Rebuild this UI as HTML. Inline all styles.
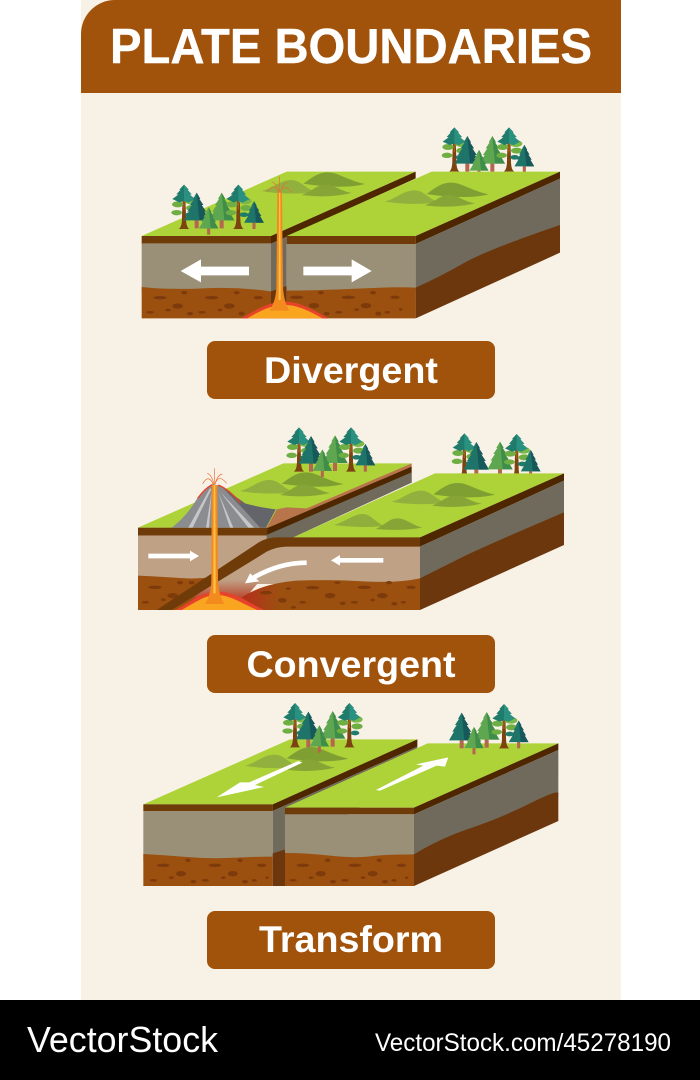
<!DOCTYPE html>
<html><head><meta charset="utf-8"><style>html,body{margin:0;padding:0;background:#fff}svg{display:block}</style></head><body>
<svg xmlns="http://www.w3.org/2000/svg" width="700" height="1080" viewBox="0 0 700 1080">
<defs>
<g id="s">
<path d="M-16,0Q-5,-6 -6,-40L-3,-120H3L6,-40Q5,-6 16,0Z" fill="#7c4310"/>
<ellipse cx="-19" cy="-74" rx="17" ry="9" fill="#6fae42"/><ellipse cx="-22" cy="-49" rx="16" ry="8" fill="#6fae42"/>
<ellipse cx="21" cy="-84" rx="19" ry="10" fill="#7ab84a"/><ellipse cx="23" cy="-63" rx="17" ry="9" fill="#6fae42"/><ellipse cx="17" cy="-43" rx="13" ry="7" fill="#1f7c6c"/>
<path d="M0,-133L14,-118L11,-117L23,-104L17,-103L33,-90L14,-80L0,-84L-14,-80L-35,-90L-17,-103L-23,-104L-11,-117L-14,-118Z" fill="#1f7c6c"/>
<path d="M0,-133L14,-118L11,-117L23,-104L17,-103L33,-90L14,-80L0,-84Z" fill="#2a9080"/>
<path d="M-2,-84V-58H2V-84Z" fill="#a85a18"/>
</g>
<g id="p">
<rect x="-6" y="-28" width="12" height="28" fill="#b4664e"/>
<path d="M0,-107L11,-88L8,-88L20,-70L15,-70L28,-50L23,-50L38,-24L-38,-24L-23,-50L-28,-50L-15,-70L-20,-70L-8,-88L-11,-88Z" fill="#1e7469"/>
<path d="M0,-107L11,-88L8,-88L20,-70L15,-70L28,-50L23,-50L38,-24L8,-24Z" fill="#17595b"/>
</g>
<g id="g">
<rect x="-6" y="-28" width="12" height="28" fill="#b4664e"/>
<path d="M0,-107L11,-88L8,-88L20,-70L15,-70L28,-50L23,-50L38,-24L-38,-24L-23,-50L-28,-50L-15,-70L-20,-70L-8,-88L-11,-88Z" fill="#5fa650"/>
<path d="M0,-107L11,-88L8,-88L20,-70L15,-70L28,-50L23,-50L38,-24L8,-24Z" fill="#3f8d4a"/>
</g>
<g id="h">
<path d="M125,-22C150,-40 170,-56 198,-56C230,-56 250,-35 310,-21C270,-10 200,-10 125,-22Z" fill="#7f9f33"/>
<path d="M0,0C30,-6 55,-33 88,-33C118,-33 128,-8 165,4C100,10 40,8 0,0Z" fill="#92b03e"/>
<path d="M120,12C150,2 165,-19 192,-19C218,-19 235,0 270,6C220,18 170,18 120,12Z" fill="#86a536"/>
</g>
<linearGradient id="glow" gradientUnits="userSpaceOnUse" x1="0" y1="480" x2="0" y2="548"><stop offset="0" stop-color="#bfa185"/><stop offset="1" stop-color="#b9301a"/></linearGradient>
<linearGradient id="edge" gradientUnits="userSpaceOnUse" x1="340" y1="0" x2="450" y2="0"><stop offset="0" stop-color="#b5301b"/><stop offset="1" stop-color="#b5301b" stop-opacity="0"/></linearGradient>
</defs>

<rect width="700" height="1080" fill="#fff"/>
<rect x="81" y="0" width="540" height="1000" fill="#f8f1e6"/>
<path d="M81,93V34A34,34 0 0 1 115,0H621V93Z" fill="#a1530c"/>
<text x="351" y="63" font-family="Liberation Sans, sans-serif" font-weight="700" font-size="49" fill="#fff" stroke="#fff" stroke-width=".4" stroke-linejoin="round" text-anchor="middle" textLength="482" lengthAdjust="spacingAndGlyphs">PLATE BOUNDARIES</text>

<!-- DIVERGENT -->
<g transform="translate(130,120) scale(.33333)">
<use href="#s" transform="translate(973,155)"/><use href="#p" transform="translate(1012,155)"/><use href="#g" transform="translate(1087,155)"/><use href="#g" transform="translate(1047,170) scale(.75)"/><use href="#s" transform="translate(1137,155)"/><use href="#p" transform="translate(1183,158) scale(.78)"/>
<!-- left block -->
<path d="M35,348H423L857,155H470Z" fill="#add338"/>
<path d="M423,348L857,155V175L423,372Z" fill="#4e2700"/>
<path d="M35,348H423V372H35Z" fill="#6f3b08"/>
<rect x="35" y="370" width="388" height="150" fill="#9a9078"/>
<path d="M35,501Q120,510 220,505T423,514V595H35Z" fill="#9c500f"/>
<path d="M423,370L470,350V595H423Z" fill="#6f6a5b"/>
<path d="M423,514L470,498V595H423Z" fill="#6d370e"/>
<!-- right block -->
<path d="M470,348H857L1290,155H905Z" fill="#add338"/>
<path d="M857,348L1290,155V176L857,372Z" fill="#4e2700"/>
<rect x="470" y="348" width="387" height="24" fill="#6f3b08"/>
<rect x="470" y="372" width="387" height="148" fill="#9a9078"/>
<path d="M470,512Q600,510 700,505T857,503V595H470Z" fill="#9c500f"/>
<path d="M857,372L1290,176V320L857,505Z" fill="#6f6a5b"/>
<path d="M857,503Q930,470 1000,430T1290,315V398L857,595Z" fill="#6d370e"/>
<g fill="#7d3a0a">
<ellipse cx="90" cy="533" rx="20" ry="5"/><ellipse cx="163" cy="518" rx="9" ry="5"/><ellipse cx="245" cy="533" rx="20" ry="5"/><ellipse cx="320" cy="518" rx="9" ry="5"/><ellipse cx="385" cy="533" rx="14" ry="5"/><ellipse cx="143" cy="558" rx="16" ry="8"/><ellipse cx="298" cy="558" rx="16" ry="8"/><ellipse cx="60" cy="577" rx="11" ry="4"/><ellipse cx="114" cy="570" rx="8" ry="4"/><ellipse cx="180" cy="581" rx="9" ry="5"/><ellipse cx="216" cy="577" rx="11" ry="4"/><ellipse cx="270" cy="570" rx="7" ry="4"/><ellipse cx="335" cy="581" rx="9" ry="6"/>
<ellipse cx="500" cy="532" rx="20" ry="5"/><ellipse cx="573" cy="518" rx="9" ry="5"/><ellipse cx="655" cy="532" rx="20" ry="5"/><ellipse cx="729" cy="518" rx="9" ry="5"/><ellipse cx="795" cy="532" rx="14" ry="5"/><ellipse cx="552" cy="557" rx="16" ry="8"/><ellipse cx="708" cy="557" rx="16" ry="8"/><ellipse cx="590" cy="581" rx="9" ry="5"/><ellipse cx="626" cy="577" rx="11" ry="4"/><ellipse cx="680" cy="569" rx="7" ry="4"/><ellipse cx="745" cy="581" rx="9" ry="6"/><ellipse cx="772" cy="577" rx="8" ry="4"/><ellipse cx="812" cy="568" rx="5" ry="4"/>
</g>
<use href="#h" transform="translate(395,213)"/><use href="#h" transform="translate(765,244)"/>
<use href="#s" transform="translate(162,327)"/><use href="#p" transform="translate(200,325)"/><use href="#g" transform="translate(275,325)"/><use href="#g" transform="translate(236,344) scale(.77)"/><use href="#s" transform="translate(325,327)"/><use href="#p" transform="translate(372,327) scale(.78)"/>
<!-- arrows -->
<path d="M357,440V466H213V487L152,453L213,418V440Z" fill="#fff"/>
<path d="M520,440V466H665V487L725,453L665,418V440Z" fill="#fff"/>
<!-- lava -->
<path d="M335,595C385,565 420,545 465,545C510,545 550,570 595,595Z" fill="#e8432a"/>
<path d="M352,595C395,570 425,555 465,555C505,555 540,575 578,595Z" fill="#f9a51f"/>
<path d="M442,218H456L459,500Q461,545 478,572H418Q438,545 439,500Z" fill="#f28a1e"/>
<path d="M447,218H451L452,540H446Z" fill="#fbc24a"/>
<g fill="none" stroke="#ee6b33" stroke-width="2"><path d="M447,218Q430,185 412,215M447,218Q440,190 425,185M449,218V170M451,218Q460,185 485,218M451,218Q458,190 472,188"/></g>
</g>

<!-- CONVERGENT -->
<g transform="translate(130,420) scale(.33333)">
<use href="#s" transform="translate(1003,173)"/><use href="#p" transform="translate(1039,173)"/><use href="#g" transform="translate(1110,172)"/><use href="#s" transform="translate(1160,175)"/><use href="#p" transform="translate(1202,173) scale(.78)"/>
<!-- left block -->
<path d="M24,323H410L845,130H460Z" fill="#add338"/>
<path d="M410,323L440,268L470,262L530,265L845,130V142L410,335Z" fill="#b8754b"/>
<path d="M410,325L845,140V158L410,347Z" fill="#4e2700"/>
<path d="M410,345L845,157V188L410,362Z" fill="#6f6a5b"/>
<rect x="24" y="323" width="388" height="24" fill="#6f3b08"/>
<rect x="24" y="347" width="846" height="145" fill="#bfa185"/>
<!-- right block grass -->
<path d="M410,362L490,352L845,188V157L410,345Z" fill="#6f6a5b"/>
<path d="M490,352H870L1302,160H915Z" fill="#add338"/>
<path d="M870,352L1302,160V182L870,380Z" fill="#4e2700"/>
<path d="M870,380L1302,182V280L870,477Z" fill="#6f6a5b"/>
<path d="M870,475Q940,440 1000,410T1302,277V375L870,570Z" fill="#6d370e"/>
<!-- soil -->
<path d="M24,467Q90,470 150,474T250,470L300,570H24Z" fill="#9c500f"/>
<path d="M240,490L300,470H400L345,535L440,570H150Z" fill="url(#glow)"/>
<path d="M335,532Q400,490 500,482Q600,478 700,484T870,475V570H400Z" fill="#9c500f"/>
<path d="M335,532Q400,490 500,482V570H400Z" fill="url(#edge)"/>
<g fill="#7d3a0a">
<ellipse cx="75" cy="502" rx="20" ry="5"/><ellipse cx="150" cy="488" rx="9" ry="5"/><ellipse cx="185" cy="488" rx="9" ry="5"/><ellipse cx="128" cy="527" rx="16" ry="8"/><ellipse cx="46" cy="547" rx="11" ry="4"/><ellipse cx="100" cy="539" rx="7" ry="4"/>
<ellipse cx="408" cy="518" rx="18" ry="5"/><ellipse cx="475" cy="506" rx="8" ry="4"/><ellipse cx="548" cy="503" rx="20" ry="5"/><ellipse cx="622" cy="488" rx="9" ry="4"/><ellipse cx="703" cy="502" rx="20" ry="5"/><ellipse cx="777" cy="488" rx="9" ry="5"/><ellipse cx="843" cy="502" rx="14" ry="5"/><ellipse cx="600" cy="527" rx="16" ry="8"/><ellipse cx="757" cy="527" rx="16" ry="8"/><ellipse cx="457" cy="541" rx="13" ry="7"/><ellipse cx="518" cy="547" rx="10" ry="4"/><ellipse cx="638" cy="550" rx="9" ry="5"/><ellipse cx="673" cy="547" rx="11" ry="4"/><ellipse cx="728" cy="540" rx="7" ry="4"/><ellipse cx="793" cy="551" rx="9" ry="5"/><ellipse cx="820" cy="547" rx="8" ry="4"/><ellipse cx="490" cy="562" rx="8" ry="4"/>
</g>
<!-- lava cone -->
<path d="M138,570C190,540 220,515 262,515C310,515 350,545 402,570Z" fill="#e8432a"/>
<path d="M155,570C200,545 225,525 262,525C300,525 335,550 382,570Z" fill="#f9a51f"/>
<!-- subducting slab -->
<path d="M80,570L385,368Q410,352 440,352H870V380H470Q440,380 410,395L125,570Z" fill="#6f3b08"/>
<use href="#h" transform="translate(330,213)"/><use href="#h" transform="translate(785,245)"/>
<g transform="translate(612,315)"><path d="M0,0C30,-8 60,-33 85,-33C110,-33 125,-8 150,3C100,8 50,6 0,0Z" fill="#8fae3c"/><path d="M125,12C150,2 165,-20 190,-20C215,-20 235,0 265,8C220,16 170,16 125,12Z" fill="#86a536"/></g>
<use href="#s" transform="translate(507,155)"/><use href="#p" transform="translate(543,155)"/><use href="#g" transform="translate(615,153)"/><use href="#g" transform="translate(577,171) scale(.77)"/><use href="#s" transform="translate(663,155)"/><use href="#p" transform="translate(706,155) scale(.78)"/>
<!-- volcano -->
<path d="M125,323Q170,290 205,230L245,192L270,197Q310,225 345,250Q385,262 437,268L408,323Z" fill="#8a8c90"/>
<path d="M275,200Q310,225 345,250Q385,262 437,268L408,323H390Q335,260 275,200Z" fill="#63656a"/>
<g fill="#c4c6c8"><path d="M240,205L175,323H188L244,208Z"/><path d="M245,215L228,323H237Z"/><path d="M264,215L300,323H310Z"/><path d="M270,215L355,323H372Z"/></g>
<path d="M203,235Q225,205 245,195M265,195Q300,210 332,250" fill="none" stroke="#e8432a" stroke-width="4"/>
<!-- arrows -->
<path d="M55,401H180V392L207,408L180,424V415H55Z" fill="#fff"/>
<path d="M760,414H630V405L603,421L630,437V428H760Z" fill="#fff"/>
<path d="M530,428Q450,428 372,472" fill="none" stroke="#fff" stroke-width="14"/>
<path d="M345,490L360,460L388,484Z" fill="#fff"/>
<!-- lava column -->
<path d="M245,195H262L264,480Q266,525 283,552H225Q243,525 244,480Z" fill="#f28a1e"/>
<path d="M251,195H256L257,520H250Z" fill="#fbc24a"/>
<g fill="none" stroke="#ee6b33" stroke-width="2"><path d="M250,193Q235,160 218,192M252,193Q245,165 232,160M253,193V145M255,193Q265,160 290,190M255,193Q262,165 277,162"/></g>
</g>

<!-- TRANSFORM -->
<g transform="translate(130,695) scale(.33333)">
<path d="M40,328H428L862,133H480Z" fill="#add338"/>
<path d="M428,328L862,133V155L428,348Z" fill="#4e2700"/>
<path d="M428,348L862,155V240L428,485Z" fill="#6f6a5b"/>
<path d="M428,475L470,462V573H428Z" fill="#6d370e"/>
<rect x="40" y="328" width="388" height="20" fill="#6f3b08"/>
<rect x="40" y="348" width="388" height="150" fill="#9a9078"/>
<path d="M40,477Q100,480 170,486T320,488T428,485V573H40Z" fill="#9c500f"/>
<!-- right block -->
<path d="M465,338H852L1285,145H893Z" fill="#add338"/>
<path d="M852,338L1285,145V165L852,358Z" fill="#4e2700"/>
<rect x="465" y="338" width="387" height="20" fill="#6f3b08"/>
<rect x="465" y="358" width="387" height="135" fill="#9a9078"/>
<path d="M465,474Q530,474 600,482T720,484T852,478V573H465Z" fill="#9c500f"/>
<path d="M852,358L1285,165V305L852,482Z" fill="#6f6a5b"/>
<path d="M852,478Q930,430 1020,400T1200,325T1285,297V378L852,573Z" fill="#6d370e"/>
<g fill="#7d3a0a">
<ellipse cx="100" cy="511" rx="19" ry="5"/><ellipse cx="174" cy="496" rx="8" ry="5"/><ellipse cx="255" cy="511" rx="19" ry="5"/><ellipse cx="330" cy="496" rx="8" ry="5"/><ellipse cx="395" cy="511" rx="14" ry="5"/><ellipse cx="153" cy="536" rx="15" ry="8"/><ellipse cx="308" cy="536" rx="15" ry="8"/><ellipse cx="70" cy="556" rx="11" ry="4"/><ellipse cx="124" cy="548" rx="7" ry="4"/><ellipse cx="190" cy="560" rx="9" ry="5"/><ellipse cx="226" cy="556" rx="11" ry="4"/><ellipse cx="280" cy="548" rx="7" ry="4"/><ellipse cx="345" cy="560" rx="9" ry="5"/><ellipse cx="373" cy="556" rx="8" ry="4"/><ellipse cx="411" cy="548" rx="5" ry="4"/>
<ellipse cx="519" cy="511" rx="19" ry="5"/><ellipse cx="593" cy="496" rx="8" ry="5"/><ellipse cx="675" cy="511" rx="19" ry="5"/><ellipse cx="748" cy="496" rx="8" ry="5"/><ellipse cx="814" cy="511" rx="14" ry="5"/><ellipse cx="572" cy="536" rx="15" ry="8"/><ellipse cx="728" cy="536" rx="15" ry="8"/><ellipse cx="489" cy="556" rx="11" ry="4"/><ellipse cx="543" cy="548" rx="7" ry="4"/><ellipse cx="609" cy="560" rx="9" ry="5"/><ellipse cx="645" cy="556" rx="11" ry="4"/><ellipse cx="699" cy="548" rx="7" ry="4"/><ellipse cx="765" cy="560" rx="9" ry="5"/><ellipse cx="792" cy="556" rx="8" ry="4"/><ellipse cx="830" cy="548" rx="5" ry="4"/>
</g>
<use href="#h" transform="translate(345,212)"/>
<use href="#s" transform="translate(495,157)"/><use href="#p" transform="translate(535,157)"/><use href="#g" transform="translate(608,155)"/><use href="#g" transform="translate(568,173) scale(.77)"/><use href="#s" transform="translate(658,157)"/>
<use href="#p" transform="translate(995,160)"/><use href="#g" transform="translate(1070,158)"/><use href="#g" transform="translate(1032,178) scale(.77)"/><use href="#s" transform="translate(1122,160)"/><use href="#p" transform="translate(1166,160) scale(.78)"/>
<path d="M505,198L517,203L375,270L402,276L260,307L330,262L358,262Z" fill="#fff"/>
<path d="M738,285L880,212L858,208L955,187L945,215L920,212L750,287Z" fill="#fff"/>
</g>

<!-- labels -->
<g fill="#a1530c"><rect x="207" y="341" width="288" height="58" rx="8"/><rect x="207" y="635" width="288" height="58" rx="8"/><rect x="207" y="911" width="288" height="58" rx="8"/></g>
<g font-family="Liberation Sans, sans-serif" font-weight="700" font-size="37" fill="#fff" text-anchor="middle">
<text x="351" y="383" textLength="174" lengthAdjust="spacingAndGlyphs">Divergent</text>
<text x="351" y="677" textLength="209" lengthAdjust="spacingAndGlyphs">Convergent</text>
<text x="351" y="952" textLength="184" lengthAdjust="spacingAndGlyphs">Transform</text>
</g>

<rect x="0" y="1000" width="700" height="80" fill="#000"/>
<text x="27" y="1052" font-family="Liberation Sans, sans-serif" font-size="36" fill="#fff" textLength="191" lengthAdjust="spacingAndGlyphs">VectorStock</text>
<text x="375" y="1051" font-family="Liberation Sans, sans-serif" font-size="25" fill="#fff" textLength="296" lengthAdjust="spacingAndGlyphs">VectorStock.com/45278190</text>
</svg>
</body></html>
